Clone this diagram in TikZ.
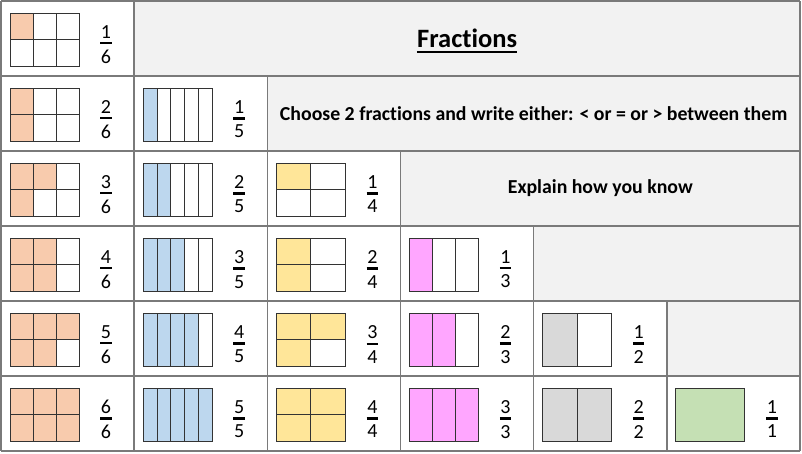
\documentclass[tikz,border=0pt]{standalone}
\usepackage{fontspec}
\newfontfamily\calibri[Ligatures=NoCommon]{Carlito}

\definecolor{sixth}{HTML}{F8CBAD}
\definecolor{fifth}{HTML}{BDD7EE}
\definecolor{quarter}{HTML}{FFE699}
\definecolor{third}{HTML}{FFA6FF}
\definecolor{half}{HTML}{D9D9D9}
\definecolor{whole}{HTML}{C5E0B4}
\definecolor{cellgray}{HTML}{F2F2F2}
\definecolor{rulegray}{HTML}{7A7A7A}

\def\cw{133.17}
% stacked fraction: numerator, thick bar, denominator
\newcommand\fracstack[2]{\vbox{\offinterlineskip\halign{\hfil##\hfil\cr
  #1\cr\noalign{\kern3.5pt}\rule{11.5pt}{2.2pt}\cr\noalign{\kern5.5pt}#2\cr}}}

\tikzset{
  tableline/.style={draw=rulegray, line width=1.4pt},
  barline/.style={draw=black!80, line width=0.8pt},
  fracnode/.style={inner sep=0pt, font=\calibri\fontsize{20}{22}\selectfont},
  titletext/.style={inner sep=0pt, font=\calibri\bfseries\fontsize{26.5}{30}\selectfont},
  headtext/.style={font=\calibri\bfseries\fontsize{19.8}{22}\selectfont}
}

\begin{document}
\begin{tikzpicture}[x=1pt, y=-1pt]
  \useasboundingbox (0,0) rectangle (802,453);
  \fill[white] (0,0) rectangle (802,453);

  % grey text cells
  \foreach \r in {1,...,5} {
    \fill[cellgray] ({1+\r*\cw},{1+(\r-1)*75}) rectangle (800,{1+\r*75});
  }

  % fraction bars
  \foreach \r in {1,...,6} {
    \foreach \c in {1,...,\r} {
      \pgfmathtruncatemacro\den{7-\c}
      \pgfmathtruncatemacro\num{\r-\c+1}
      \pgfmathtruncatemacro\nx{{3,5,2,3,2,1}[\c-1]}
      \pgfmathtruncatemacro\ny{{2,1,2,1,1,1}[\c-1]}
      \pgfmathsetmacro\col{{"sixth","fifth","quarter","third","half","whole"}[\c-1]}
      \pgfmathsetmacro\X{1+(\c-1)*\cw}
      \pgfmathsetmacro\Y{1+(\r-1)*75}
      \pgfmathsetmacro\w{69/\nx}
      \pgfmathsetmacro\h{53/\ny}
      \foreach \i in {1,...,\nx} {
        \foreach \j in {1,...,\ny} {
          \pgfmathtruncatemacro\idx{(\i-1)*\ny+\j}
          \ifnum\idx>\num
            \def\fc{white}
          \else
            \edef\fc{\col}
          \fi
          \filldraw[barline, fill=\fc]
            ({\X+9+(\i-1)*\w},{\Y+12+(\j-1)*\h}) rectangle ++(\w,\h);
        }
      }
      \node[fracnode] (f\r\c) at ({\X+105},{\Y+43.5}) {\fracstack{\num}{\den}};
    }
  }

  % table lines
  \foreach \r in {0,...,6} {
    \draw[tableline] (1,{1+\r*75}) -- (800,{1+\r*75});
  }
  \foreach \r in {1,...,6} {
    \foreach \k in {0,...,\r,6} {
      \draw[tableline] ({1+\k*\cw},{1+(\r-1)*75}) -- ({1+\k*\cw},{1+\r*75});
    }
  }

  % texts
  \node[titletext] (title) at ({1+3.5*\cw},38.5) {Fractions};
  \draw[line width=1.8pt] ([yshift=-4pt]title.base west) -- ([yshift=-4pt]title.base east);
  \node[headtext] (choose) at ({1+4*\cw},113.5) {Choose 2 fractions and write either: < or = or > between them};
  \node[headtext] (explain) at ({1+4.5*\cw},188.5) {Explain how you know};
\end{tikzpicture}
\end{document}
